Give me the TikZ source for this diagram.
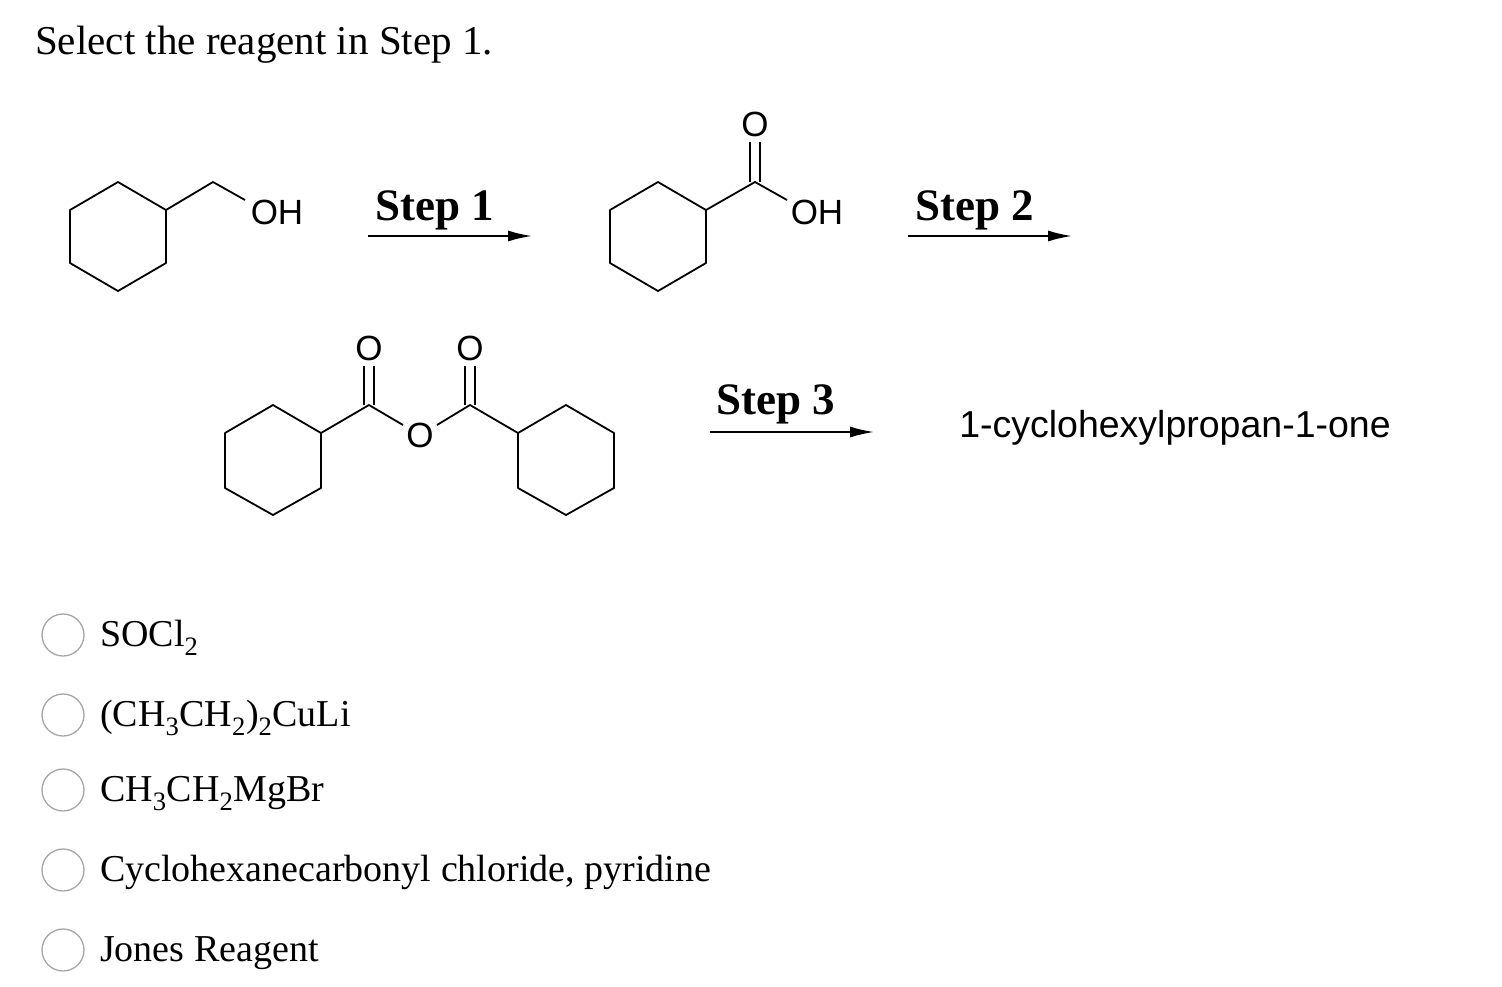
\documentclass[tikz,border=0pt]{standalone}
\usepackage{fontspec}
\usetikzlibrary{arrows.meta}
\setmainfont{Liberation Serif}
\newfontfamily\arial{Liberation Sans}
\begin{document}
\begin{tikzpicture}[x=1pt,y=-1pt,
 bond/.style={line width=1.8pt,line join=round},
 lab/.style={font=\arial\fontsize{35}{35}\selectfont,inner sep=1pt},
 stp/.style={font=\fontsize{45}{45}\selectfont\bfseries,anchor=base},
 rarr/.style={line width=1.8pt,-{Latex[length=24pt,width=11pt]}},
 opt/.style={font=\fontsize{38}{38}\selectfont,anchor=base west},
 rad/.style={draw=gray!70,line width=1.3pt,fill=white}]
\useasboundingbox (0,0) rectangle (1502,986);
\node[font=\fontsize{41}{41}\selectfont,anchor=base west,inner sep=0pt] (title) at (35,54) {Select the reagent in Step 1.};
% mol 1
\draw[bond] (70,210)--(118,182)--(166,210)--(166,263)--(118,291)--(70,263)--cycle;
\draw[bond] (166,210)--(213,182)--(245,200);
\node[lab] (oh1) at (277,212) {OH};
\node[stp] (s1) at (435,220) {Step 1};
\coordinate (a1) at (368,236); \coordinate (b1) at (532,236);
\draw[rarr] (a1)--(b1);
% mol 2
\draw[bond] (610,210)--(658,182)--(706,210)--(706,263)--(658,291)--(610,263)--cycle;
\draw[bond] (706,210)--(755,182)--(787,200);
\draw[bond] (750,182)--(750,142); \draw[bond] (760,182)--(760,142);
\node[lab] (o2) at (755,124) {O};
\node[lab] (oh2) at (817,212) {OH};
\node[stp] (s2) at (975,220) {Step 2};
\coordinate (a2) at (908,236); \coordinate (b2) at (1072,236);
\draw[rarr] (a2)--(b2);
% anhydride
\draw[bond] (225,433)--(273,405)--(321,433)--(321,488)--(273,515)--(225,488)--cycle;
\draw[bond] (321,433)--(369,405)--(403,425);
\draw[bond] (364,405)--(364,366); \draw[bond] (374,405)--(374,366);
\node[lab] (o3) at (369,348) {O};
\node[lab] (o4) at (420,435) {O};
\draw[bond] (437,425)--(470,405)--(518,433);
\draw[bond] (465,405)--(465,366); \draw[bond] (475,405)--(475,366);
\node[lab] (o5) at (470,348) {O};
\draw[bond] (518,433)--(566,405)--(614,433)--(614,488)--(566,515)--(518,488)--cycle;
\node[stp] (s3) at (776,414) {Step 3};
\coordinate (a3) at (710,432); \coordinate (b3) at (874,432);
\draw[rarr] (a3)--(b3);
\node[lab,font=\arial\fontsize{37.5}{37.5}\selectfont] (prod) at (1175,428) {1-cyclohexylpropan-1-one};
% options
\foreach \y/\t in {635/{SOCl\textsubscript{2}},715/{(CH\textsubscript{3}CH\textsubscript{2})\textsubscript{2}CuLi},790/{CH\textsubscript{3}CH\textsubscript{2}MgBr},870/{Cyclohexanecarbonyl chloride, pyridine},950/{Jones Reagent}}{
 \node[rad,circle,minimum size=42pt,inner sep=0pt] at (63,\y) {};
 \node[opt,inner sep=0pt] at (100,\y+11) {\t};
}
\end{tikzpicture}
\end{document}
